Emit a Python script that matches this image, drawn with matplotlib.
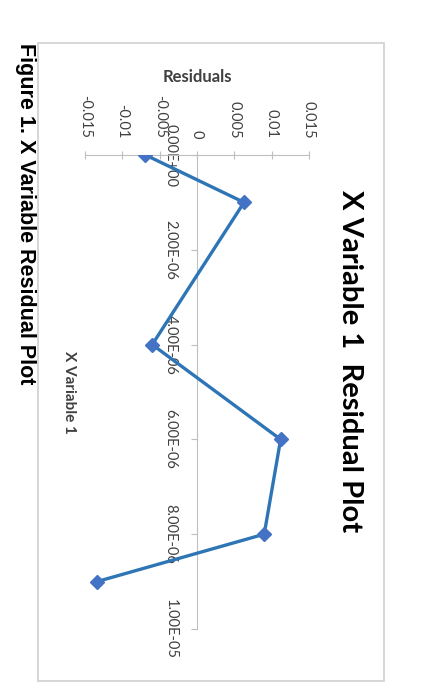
import matplotlib
matplotlib.use("Agg")
import matplotlib.pyplot as plt
from matplotlib.patches import Rectangle

# Data (chart is shown rotated 90 degrees clockwise)
x_variable = [0.0, 1e-6, 4e-6, 6e-6, 8e-6, 9e-6]
residuals = [-0.0069, 0.0063, -0.0060, 0.0112, 0.0090, -0.0134]

resid_ticks = [-0.015, -0.01, -0.005, 0, 0.005, 0.01, 0.015]
resid_labels = ["-0.015", "-0.01", "-0.005", "0", "0.005", "0.01", "0.015"]
x_ticks = [0, 2e-6, 4e-6, 6e-6, 8e-6, 1e-5]
x_labels = ["0.00E+00", "2.00E-06", "4.00E-06", "6.00E-06", "8.00E-06", "1.00E-05"]

W, H = 427, 700
fig = plt.figure(figsize=(W / 100, H / 100), dpi=100)
fig.patch.set_facecolor("white")

axis_grey = "#BFBFBF"
text_grey = "#404040"

# chart area border
fig.add_artist(Rectangle((38 / W, 1 - 681 / H), (384 - 38) / W, (681 - 43) / H,
                         transform=fig.transFigure, fill=False,
                         edgecolor="#D0D0D0", linewidth=1.2))

# axes placed so that residual -0.015..0.015 spans x 85..309 px and
# x variable 0..1e-5 spans y 155..629 px
ax = fig.add_axes([85 / W, 1 - 629 / H, 224 / W, 474 / H])
ax.set_facecolor("none")

ax.plot(residuals, x_variable, color="#2E75B6", linewidth=2.4,
        marker="D", markersize=7, markerfacecolor="#4472C4",
        markeredgecolor="#4472C4", zorder=3)

ax.set_xlim(-0.015, 0.015)
ax.set_ylim(1e-5, 0)

# spines
for side in ["right", "bottom"]:
    ax.spines[side].set_visible(False)
ax.spines["top"].set_color(axis_grey)
ax.spines["left"].set_color(axis_grey)
ax.spines["left"].set_position(("data", 0))

# residual axis along the top
ax.xaxis.tick_top()
ax.set_xticks(resid_ticks)
ax.set_xticklabels(resid_labels, rotation=-90, fontsize=10.5,
                   family="Lato", color=text_grey)
ax.tick_params(axis="x", direction="inout", length=6, color=axis_grey,
               pad=9, top=True, bottom=False)

# x variable axis at residual = 0
ax.set_yticks(x_ticks)
ax.set_yticklabels(x_labels, rotation=-90, fontsize=10.5,
                   family="Lato", color=text_grey, va="center")
ax.tick_params(axis="y", direction="out", length=4, color=axis_grey, pad=10)

ax.set_xlabel("Residuals", fontsize=12, fontweight="bold",
              family="Lato", color=text_grey)
ax.xaxis.set_label_position("top")
ax.xaxis.set_label_coords(0.5, 1.1646)
ax.xaxis.label.set_va("center")

ax.set_ylabel("X Variable 1", rotation=-90, fontsize=11, fontweight="bold",
              family="Lato", color=text_grey)
ax.yaxis.set_label_coords(-0.071, 0.5)
ax.yaxis.label.set_va("center")
ax.yaxis.label.set_ha("center")

# chart title
fig.text(350 / W, 1 - 361 / H, "X Variable 1  Residual Plot", rotation=-90,
         fontsize=21, fontweight="bold", family="Lato", color="black",
         ha="center", va="center")

# figure caption
fig.text(25 / W, 1 - 214 / H, "Figure 1. X Variable Residual Plot", rotation=-90,
         fontsize=15.5, fontweight="bold", family="Liberation Sans", color="black",
         ha="center", va="center")

fig.savefig("out.png", dpi=100)
